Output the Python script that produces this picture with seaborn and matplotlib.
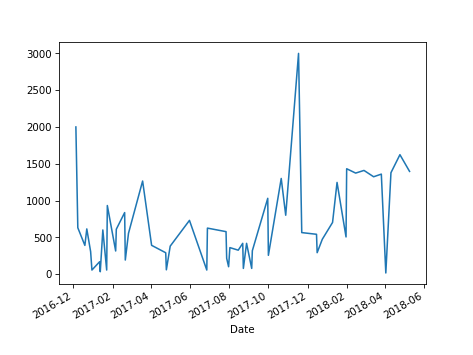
import matplotlib
matplotlib.use("Agg")
import matplotlib.pyplot as plt
import matplotlib.dates as mdates
import pandas as pd
import seaborn as sns

dates = [
    "2016-12-05", "2016-12-08", "2016-12-19", "2016-12-22", "2016-12-28", "2016-12-30",
    "2017-01-11", "2017-01-12", "2017-01-16", "2017-01-22", "2017-01-23",
    "2017-02-05", "2017-02-06", "2017-02-19", "2017-02-20", "2017-02-25",
    "2017-03-19", "2017-04-02", "2017-04-24", "2017-04-25", "2017-05-01",
    "2017-05-31", "2017-06-27", "2017-06-28", "2017-07-27", "2017-07-28",
    "2017-07-31", "2017-08-02", "2017-08-15", "2017-08-22", "2017-08-23",
    "2017-08-28", "2017-09-05", "2017-09-06", "2017-09-30", "2017-10-01",
    "2017-10-21", "2017-10-28", "2017-11-17", "2017-11-22", "2017-12-15",
    "2017-12-16", "2017-12-24", "2018-01-09", "2018-01-16", "2018-01-30",
    "2018-01-31", "2018-02-14", "2018-02-27", "2018-03-14", "2018-03-26",
    "2018-04-02", "2018-04-10", "2018-04-24", "2018-05-09",
]
values = [
    2000, 630, 390, 614, 304, 55,
    168, 32, 600, 55, 932,
    314, 610, 836, 191, 555,
    1265, 391, 290, 58, 380,
    730, 55, 625, 577, 214,
    100, 360, 325, 418, 77,
    418, 77, 318, 1030, 255,
    1300, 800, 3000, 564, 541,
    291, 473, 702, 1246, 505,
    1432, 1373, 1409, 1323, 1359,
    15, 1378, 1623, 1396,
]

df = pd.DataFrame({"Date": pd.to_datetime(dates), "Value": values})

fig, ax = plt.subplots(figsize=(6.4, 4.8), dpi=74)
sns.lineplot(data=df, x="Date", y="Value", ax=ax, color="#1f77b4", linewidth=1.5)
ax.set_ylabel("")
ax.set_xlabel("Date")
ax.xaxis.set_major_locator(mdates.MonthLocator(bymonth=[2, 4, 6, 8, 10, 12]))
ax.xaxis.set_major_formatter(mdates.DateFormatter("%Y-%m"))
fig.autofmt_xdate()
fig.savefig("out.png", dpi=74)
